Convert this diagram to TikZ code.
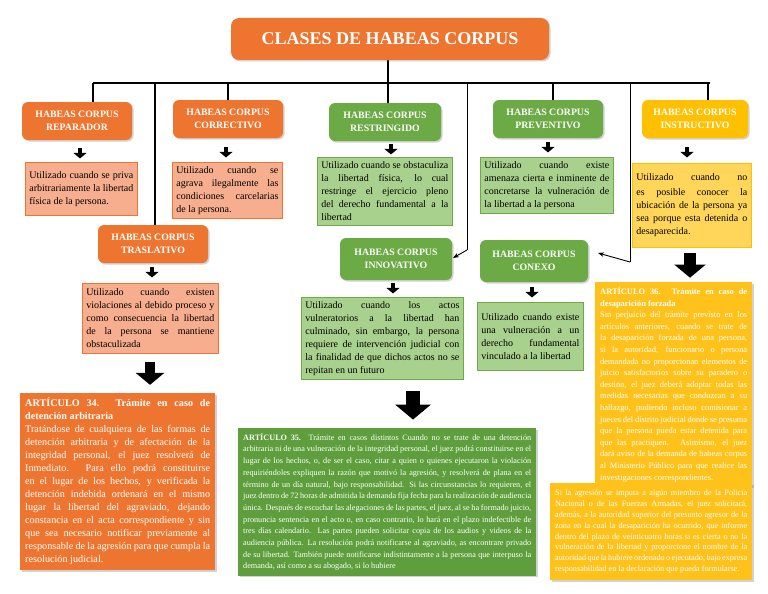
\documentclass[tikz,border=0pt]{standalone}
\usepackage{fontspec}
\setmainfont{Liberation Serif}
\usetikzlibrary{shadows,arrows.meta}
\definecolor{orH}{HTML}{EE7530}
\definecolor{orL}{HTML}{F6AE8E}
\definecolor{grH}{HTML}{6BAA45}
\definecolor{grL}{HTML}{A9D18E}
\definecolor{yeH}{HTML}{FFC000}
\definecolor{yeL}{HTML}{FFD55A}
\definecolor{grA}{HTML}{5E9E3C}
\definecolor{yeA}{HTML}{FFC21A}
\tikzset{
  hdr/.style={rounded corners=6pt,text=white,font=\bfseries\fontsize{9.8}{13}\selectfont,align=center,inner sep=2pt,drop shadow={opacity=0.35,shadow xshift=1.5pt,shadow yshift=-1.5pt}},
  txt/.style={draw,line width=0.8pt,font=\fontsize{10}{13}\selectfont,align=justify,inner sep=4pt,anchor=north west},
  art/.style={text=white,align=justify,inner sep=5pt,anchor=north west,drop shadow={opacity=0.35,shadow xshift=1.5pt,shadow yshift=-1.5pt}},
  ln/.style={line width=1.3pt},
}
\newcommand{\barrow}[3]{% x, y top, scale
  \fill[black] (#1-#3*2.2,#2) rectangle (#1+#3*2.2,#2+#3*4.5);
  \fill[black] (#1-#3*6,#2+#3*4.5) -- (#1+#3*6,#2+#3*4.5) -- (#1,#2+#3*9.5) -- cycle;}
\begin{document}
\hyphenpenalty=10000 \exhyphenpenalty=10000
\begin{tikzpicture}[x=1pt,y=-1pt]
\useasboundingbox[fill=white] (0,0) rectangle (768,594);
% connectors
\draw[ln] (388,60) -- (388,103);
\draw[ln] (93,83) -- (710,83);
\draw[ln] (93,83) -- (93,103);
\draw[ln] (155,83) -- (155,228);
\draw[ln] (228,83) -- (228,100);
\draw[ln] (553,83) -- (553,100);
\draw[ln] (708,83) -- (708,100);
\draw[line width=0.9pt] (467,83) -- (467,250);
\draw[line width=0.9pt,-{Stealth[length=6pt]}] (467,250) -- (453,258);
\draw[line width=0.9pt] (630,83) -- (630,262);
\draw[line width=0.9pt,-{Stealth[length=6pt]}] (630,262) -- (598,253);
\draw[line width=1.3pt] (665,465) -- (665,484);
% title
\node[rounded corners=8pt,fill=orH,text=white,font=\bfseries\fontsize{18}{22}\selectfont,minimum width=318pt,minimum height=42pt,drop shadow={opacity=0.35,shadow xshift=1.5pt,shadow yshift=-1.5pt}] (title) at (390,39) {CLASES DE HABEAS CORPUS};
% headers
\node[hdr,fill=orH,minimum width=110pt,minimum height=38pt] (rep) at (77,121) {HABEAS CORPUS\\REPARADOR};
\node[hdr,fill=orH,minimum width=110pt,minimum height=38pt] (cor) at (228,119) {HABEAS CORPUS\\CORRECTIVO};
\node[hdr,fill=grH,minimum width=112pt,minimum height=38pt] (res) at (385,122) {HABEAS CORPUS\\RESTRINGIDO};
\node[hdr,fill=grH,minimum width=110pt,minimum height=38pt] (pre) at (548,119) {HABEAS CORPUS\\PREVENTIVO};
\node[hdr,fill=yeH,minimum width=106pt,minimum height=38pt] (ins) at (695,119) {HABEAS CORPUS\\INSTRUCTIVO};
\node[hdr,fill=orH,minimum width=110pt,minimum height=38pt] (tra) at (153,244) {HABEAS CORPUS\\TRASLATIVO};
\node[hdr,fill=grH,minimum width=112pt,minimum height=42pt] (inn) at (396,259) {HABEAS CORPUS\\INNOVATIVO};
\node[hdr,fill=grH,minimum width=108pt,minimum height=42pt] (con) at (534,261) {HABEAS CORPUS\\CONEXO};
% small arrows
\barrow{80}{148}{1.1}
\barrow{226}{147}{1.1}
\barrow{391}{144}{1.1}
\barrow{548}{142}{1.1}
\barrow{687}{147}{1.1}
\barrow{152}{267}{1.1}
\barrow{393}{283}{1.1}
\barrow{532}{287}{1.1}
% big arrows
\barrow{150}{362}{2.4}
\barrow{413}{391}{3.0}
\barrow{690}{253}{2.6}
% text boxes
\node[txt,draw=orH,fill=orL,text width=104pt,minimum height=53pt] (t1) at (25,162) {Utilizado cuando se priva arbitrariamente la libertad física de la persona.};
\node[txt,draw=orH,fill=orL,text width=102pt,minimum height=54pt] (t2) at (172,162) {Utilizado cuando se agrava ilegalmente las condiciones carcelarias de la persona.};
\node[txt,draw=grH,fill=grL,text width=127pt,minimum height=68pt] (t3) at (317,157) {Utilizado cuando se obstaculiza la libertad física, lo cual restringe el ejercicio pleno del derecho fundamental a la libertad};
\node[txt,draw=grH,fill=grL,text width=125pt,minimum height=55pt] (t4) at (480,157) {Utilizado cuando existe amenaza cierta e inminente de concretarse la vulneración de la libertad a la persona};
\node[txt,draw=yeH,fill=yeL,text width=111pt,minimum height=84pt] (t5) at (632,163) {\vspace{2pt}Utilizado cuando no es posible conocer la ubicación de la persona ya sea porque esta detenida o desaparecida.};
\node[txt,draw=orH,fill=orL,text width=128pt,minimum height=70pt] (t6) at (82,283) {Utilizado cuando existen violaciones al debido proceso y como consecuencia la libertad de la persona se mantiene obstaculizada};
\node[txt,draw=grH,fill=grL,text width=154pt,minimum height=78pt] (t7) at (301,297) {Utilizado cuando los actos vulneratorios a la libertad han culminado, sin embargo, la persona requiere de intervención judicial con la finalidad de que dichos actos no se repitan en un futuro};
\node[txt,draw=grH,fill=grL,text width=98pt,minimum height=68pt] (t8) at (477,302) {Utilizado cuando existe una vulneración a un derecho fundamental vinculado a la libertad};
% articles
\node[art,fill=orH,text width=185pt,minimum height=175pt,font=\fontsize{10.2}{13}\selectfont] (a34) at (20,393) {\textbf{ARTÍCULO 34. Trámite en caso de detención arbitraria}\\ Tratándose de cualquiera de las formas de detención arbitraria y de afectación de la integridad personal, el juez resolverá de Inmediato. Para ello podrá constituirse en el lugar de los hechos, y verificada la detención indebida ordenará en el mismo lugar la libertad del agraviado, dejando constancia en el acta correspondiente y sin que sea necesario notificar previamente al responsable de la agresión para que cumpla la resolución judicial.};
\node[art,fill=grA,text width=288pt,minimum height=144pt,font=\fontsize{8.2}{11.7}\selectfont] (a35) at (238,428) {\textbf{ARTÍCULO 35.} Trámite en casos distintos Cuando no se trate de una detención arbitraria ni de una vulneración de la integridad personal, el juez podrá constituirse en el lugar de los hechos, o, de ser el caso, citar a quien o quienes ejecutaron la violación requiriéndoles expliquen la razón que motivó la agresión, y resolverá de plana en el término de un día natural, bajo responsabilidad. Si las circunstancias lo requieren, el juez dentro de 72 horas de admitida la demanda fija fecha para la realización de audiencia única. Después de escuchar las alegaciones de las partes, el juez, al se ha formado juicio, pronuncia sentencia en el acto o, en caso contrario, lo hará en el plazo indefectible de tres días calendario. Las partes pueden solicitar copia de los audios y videos de la audiencia pública. La resolución podrá notificarse al agraviado, as encontrare privado de su libertad. También puede notificarse indistintamente a la persona que interpuso la demanda, así como a su abogado, si lo hubiere};
\node[art,fill=yeA,text width=147pt,minimum height=183pt,font=\fontsize{8.4}{11.6}\selectfont] (a36) at (595,282) {\textbf{ARTÍCULO 36. Trámite en caso de desaparición forzada}\\ Sin perjuicio del trámite previsto en los artículos anteriores, cuando se trate de la desaparición forzada de una persona, si la autoridad, funcionario o persona demandada no proporcionan elementos de juicio satisfactorios sobre su paradero o destino, el juez deberá adoptar todas las medidas necesarias que conduzcan a su hallazgo, pudiendo incluso comisionar a jueces del distrito judicial donde se presuma que la persona pueda estar detenida para que las practiquen. Asimismo, el juez dará aviso de la demanda de habeas corpus al Ministerio Público para que realice las investigaciones correspondientes.};
\node[art,fill=yeA,text width=192pt,minimum height=97pt,font=\fontsize{8.2}{10.8}\selectfont] (a36b) at (550,483) {Si la agresión se imputa a algún miembro de la Policía Nacional o de las Fuerzas Armadas, el juez solicitará, además, a la autoridad superior del presunto agresor de la zona en la cual la desaparición ha ocurrido, que informe dentro del plazo de veinticuatro horas si es cierta o no la vulneración de la libertad y proporcione el nombre de la autoridad que la hubiere ordenado o ejecutado, bajo expresa responsabilidad en la declaración que pueda formularse.};
\end{tikzpicture}
\end{document}
